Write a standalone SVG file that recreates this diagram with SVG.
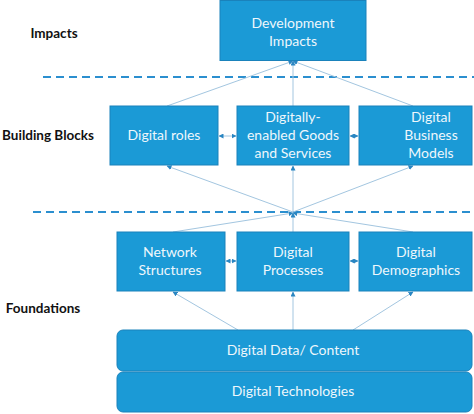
<svg xmlns="http://www.w3.org/2000/svg" width="474" height="414" viewBox="0 0 474 414">
<style>
.box{fill:#1b9ad6;stroke:#1a82bb;stroke-width:1}
.t{font-family:Lato,"Liberation Sans",sans-serif;font-size:14px;fill:#eef7fc;text-anchor:middle}
.lbl{font-family:Lato,"Liberation Sans",sans-serif;font-size:13.5px;font-weight:bold;fill:#111;text-anchor:middle}
.c{stroke:#a3c6e0;stroke-width:1;fill:none}
.dash{stroke:#2b8fcf;stroke-width:2;stroke-dasharray:8 5;fill:none}
</style>
<defs>
<marker id="ah" viewBox="0 0 10 10" refX="9" refY="5" markerWidth="5" markerHeight="5" orient="auto-start-reverse">
<path d="M0,0 L10,5 L0,10 z" fill="#2a86c2"/>
</marker>
</defs>
<rect width="474" height="414" fill="#fff"/>
<g id="labels">
<text class="lbl" x="54" y="38">Impacts</text>
<text class="lbl" x="48" y="140">Building Blocks</text>
<text class="lbl" x="43" y="313">Foundations</text>
</g>
<g id="separators">
<line class="dash" x1="43" y1="77" x2="474" y2="77"/>
<line class="dash" x1="33" y1="212" x2="474" y2="212"/>
</g>
<g id="connectors">
<line class="c" x1="167" y1="106" x2="293" y2="61" marker-end="url(#ah)"/>
<line class="c" x1="293" y1="106" x2="293" y2="61" marker-end="url(#ah)"/>
<line class="c" x1="413" y1="106" x2="293" y2="61" marker-end="url(#ah)"/>
<line class="c" x1="293" y1="212" x2="167" y2="166" marker-end="url(#ah)"/>
<line class="c" x1="293" y1="212" x2="293" y2="166" marker-end="url(#ah)"/>
<line class="c" x1="293" y1="212" x2="413" y2="166" marker-end="url(#ah)"/>
<line class="c" x1="173" y1="232" x2="293" y2="213" marker-end="url(#ah)"/>
<line class="c" x1="293" y1="232" x2="293" y2="213" marker-end="url(#ah)"/>
<line class="c" x1="413" y1="232" x2="293" y2="213" marker-end="url(#ah)"/>
<line class="c" x1="238" y1="330" x2="173" y2="292" marker-end="url(#ah)"/>
<line class="c" x1="293" y1="330" x2="293" y2="292" marker-end="url(#ah)"/>
<line class="c" x1="353" y1="330" x2="413" y2="292" marker-end="url(#ah)"/>
<line class="c" x1="219" y1="136" x2="236" y2="136" marker-start="url(#ah)" marker-end="url(#ah)"/>
<line class="c" x1="350" y1="136" x2="358" y2="136" marker-start="url(#ah)" marker-end="url(#ah)"/>
<line class="c" x1="226" y1="261" x2="236" y2="261" marker-start="url(#ah)" marker-end="url(#ah)"/>
<line class="c" x1="350" y1="261" x2="358" y2="261" marker-start="url(#ah)" marker-end="url(#ah)"/>
</g>
<g id="development-impacts">
<rect class="box" x="220" y="0.5" width="146" height="60"/>
<text class="t" x="293" y="28">Development</text>
<text class="t" x="293" y="46">Impacts</text>
</g>
<g id="digital-roles">
<rect class="box" x="110" y="106" width="108" height="59"/>
<text class="t" x="164" y="140">Digital roles</text>
</g>
<g id="digitally-enabled">
<rect class="box" x="237" y="106" width="112" height="59"/>
<text class="t" x="293" y="122">Digitally-</text>
<text class="t" x="293" y="140">enabled Goods</text>
<text class="t" x="293" y="158">and Services</text>
</g>
<g id="digital-business-models">
<rect class="box" x="359" y="106" width="113" height="59"/>
<text class="t" x="431" y="122">Digital</text>
<text class="t" x="431" y="140">Business</text>
<text class="t" x="431" y="158">Models</text>
</g>
<g id="network-structures">
<rect class="box" x="117" y="232" width="108" height="59"/>
<text class="t" x="170" y="257">Network</text>
<text class="t" x="170" y="275">Structures</text>
</g>
<g id="digital-processes">
<rect class="box" x="237" y="232" width="112" height="59"/>
<text class="t" x="293" y="257">Digital</text>
<text class="t" x="293" y="275">Processes</text>
</g>
<g id="digital-demographics">
<rect class="box" x="359" y="232" width="113" height="59"/>
<text class="t" x="416" y="257">Digital</text>
<text class="t" x="416" y="275">Demographics</text>
</g>
<g id="digital-data">
<rect class="box" x="117" y="330" width="355" height="41" rx="6"/>
<text class="t" x="293" y="355">Digital Data/ Content</text>
</g>
<g id="digital-technologies">
<rect class="box" x="117" y="372" width="355" height="40" rx="6"/>
<text class="t" x="293" y="396">Digital Technologies</text>
</g>
</svg>
